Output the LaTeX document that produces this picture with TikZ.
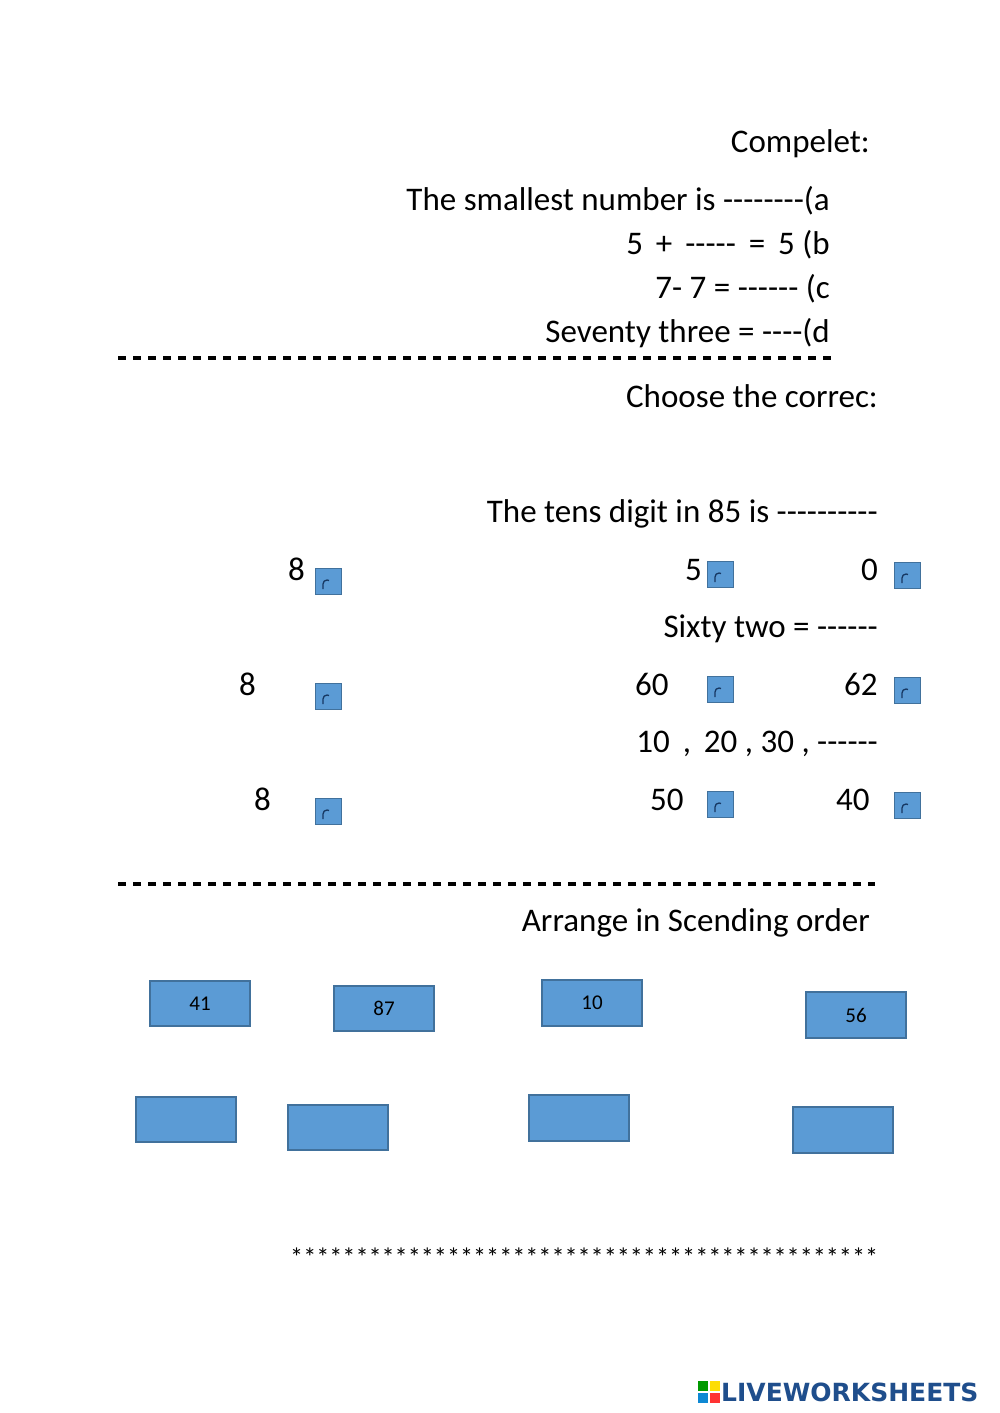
\documentclass[tikz,border=0pt]{standalone}
\usepackage{fontspec}
\setmainfont{Carlito}[Ligatures=TeXOff]
\newfontfamily\logofont{DejaVu Sans}
\begin{document}
\begin{tikzpicture}[x=1pt,y=-1pt,
 txt/.style={anchor=base east,inner sep=0,font=\fontsize{33}{34}\selectfont},
 txl/.style={anchor=base west,inner sep=0,font=\fontsize{33}{34}\selectfont},
 chk/.style={draw=boxline,fill=boxfill,line width=1pt},
 bigbox/.style={draw=boxline,fill=boxfill,line width=1.2pt,font=\fontsize{21}{22}\selectfont},
 sep/.style={line width=4pt,dash pattern=on 8pt off 7pt}]
\definecolor{boxfill}{HTML}{5B9BD5}
\definecolor{boxline}{HTML}{41719C}
\definecolor{lwsblue}{HTML}{1F4E8C}
\useasboundingbox[fill=white] (0,0) rectangle (1000,1413);
\node[txt] (t0) at (870,152) {Compelet:};
\node[txt] (ta) at (830,210) {The smallest number is --------(a};
\node[txt] (tb) at (830,254) {5\, +\, -----\, =\, 5 (b};
\node[txt] (tc) at (830,298) {7- 7 = ------ (c};
\node[txt] (td) at (830,342) {Seventy three = ----(d};
\draw[sep] (118,358) -- (833,358);
\node[txt] (t1) at (878,407) {Choose the correc:};
\node[txt] (q1) at (878,522) {The tens digit in 85 is ----------};
\node[txt] at (305,580) {8};
\node[txt] at (702,580) {5};
\node[txt] at (878,580) {0};
\node[txt] (q2) at (878,637) {Sixty two = ------};
\node[txl] at (239,695) {8};
\node[txl] at (635,695) {60};
\node[txl] at (844,695) {62};
\node[txt] (q3) at (878,752) {10\, ,\, 20 , 30 , ------};
\node[txl] at (254,810) {8};
\node[txl] at (650,810) {50};
\node[txl] at (836,810) {40};
\foreach \x/\y in {315/568,707/561,894/562,315/683,707/676,894/677,315/798,707/791,894/792}{
 \draw[chk] (\x,\y) rectangle ++(26,26);
 \draw[line width=1.3pt,color=lwsblue!70!black] (\x+8,\y+21) -- (\x+8,\y+16) arc[start angle=180,end angle=300,radius=4];
}
\draw[sep] (118,884) -- (875,884);
\node[txt] (t2) at (870,931) {Arrange in Scending order};
\node[bigbox,minimum width=100pt,minimum height=45pt] (b41) at (200,1003.5) {41};
\node[bigbox,minimum width=100pt,minimum height=45pt] (b87) at (384,1008.5) {87};
\node[bigbox,minimum width=100pt,minimum height=46pt] (b10) at (592,1003) {10};
\node[bigbox,minimum width=100pt,minimum height=46pt] (b56) at (856,1015) {56};
\node[bigbox,minimum width=100pt,minimum height=45pt] (e1) at (186,1119.5) {};
\node[bigbox,minimum width=100pt,minimum height=45pt] (e2) at (338,1127.5) {};
\node[bigbox,minimum width=100pt,minimum height=46pt] (e3) at (579,1118) {};
\node[bigbox,minimum width=100pt,minimum height=46pt] (e4) at (843,1130) {};
\node[anchor=base west,inner sep=0,font=\fontsize{30}{30}\selectfont] (stars) at (290,1266) {\resizebox{588pt}{!}{*********************************************}};
\node[anchor=west,inner sep=0,font=\fontsize{25}{25}\selectfont\logofont\bfseries,color=lwsblue] (logo) at (721,1392) {LIVEWORKSHEETS};
\fill[green!60!black] (698,1381) rectangle (708,1391);
\fill[yellow!80!orange] (710,1381) rectangle (720,1391);
\fill[cyan!70!blue] (698,1393) rectangle (708,1403);
\fill[red!80] (710,1393) rectangle (720,1403);
\end{tikzpicture}
\end{document}
